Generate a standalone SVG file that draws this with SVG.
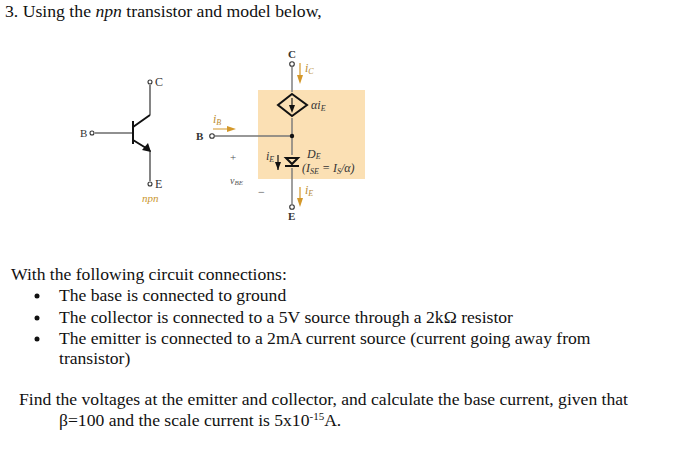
<svg xmlns="http://www.w3.org/2000/svg" width="695" height="466" viewBox="0 0 695 466">
<style>
text{font-family:"Liberation Serif","Times New Roman",serif;fill:#111}
.t{font-size:17.6px}
.w{fill:none;stroke:#222;stroke-width:1.1}
.g{fill:none;stroke:#777;stroke-width:1.4}
.k{fill:none;stroke:#111;stroke-width:2}
.o{fill:#fff;stroke:#333;stroke-width:1.1}
.y{fill:none;stroke:#d4982a;stroke-width:1.2}
.ya{fill:#d4982a}
.l{font-size:11px;font-weight:bold;fill:#333}
.m{font-style:italic;fill:#333}
.c{font-style:italic;fill:#b98a30;font-size:12px}
</style>
<rect width="695" height="466" fill="#fff"/>
<g id="heading"><text class="t" x="5" y="17" style="font-size:17.7px">3. Using the <tspan font-style="italic">npn</tspan> transistor and model below,</text></g>
<g id="npn-symbol">
<path class="w" d="M150 85V115M150 150V181M95 133H133"/>
<path class="k" d="M133 121V144M133 127L150 115M133 140L146 148"/>
<path d="M151 152L142 150L148 143Z" fill="#111"/>
<circle class="o" cx="150" cy="82" r="2"/><circle class="o" cx="150" cy="184" r="2"/><circle class="o" cx="92" cy="133" r="2"/>
<text x="155" y="86" font-size="12" style="fill:#333">C</text>
<text x="155" y="188" font-size="12" style="fill:#333">E</text>
<text x="80" y="137" font-size="11" style="fill:#333">B</text>
<text x="142" y="202" font-size="11" font-style="italic" style="fill:#c9962e">npn</text>
</g>
<g id="model-box"><rect x="258" y="90" width="107" height="89" fill="#fbe0b4"/></g>
<g id="connectors">
<path class="g" d="M292 67V92M292 118V155M292 168V204M215 136H292"/>
<circle cx="292" cy="136" r="2.2" fill="#111"/>
<path class="y" d="M300 63V79M213 129H232M300 187V203"/>
<path class="ya" d="M300 84L297 75H303ZM236 129L227 126V132ZM300 207L297 198H303Z"/>
<path d="M278 155V170" fill="none" stroke="#222" stroke-width="1.3"/><path d="M278 170L275 162H281Z" fill="#111"/>
</g>
<g id="source">
<path d="M292 94L307 105L292 116L278 105Z" fill="none" stroke="#111" stroke-width="2"/>
<path d="M292 98V110" stroke="#222" stroke-width="1.2"/><path d="M292 113L289 105H295Z" fill="#111"/>
<text class="m" x="311" y="109" font-size="12">αi<tspan font-size="8" dy="2">E</tspan></text>
</g>
<g id="diode">
<path d="M286 158H298L292 164Z" fill="none" stroke="#111" stroke-width="2"/><path d="M285 166H299" stroke="#111" stroke-width="2"/>
<text class="m" x="266" y="160" font-size="12">i<tspan font-size="8" dy="2">E</tspan></text>
<text class="m" x="307" y="158" font-size="12">D<tspan font-size="8" dy="1">E</tspan></text>
<text class="m" x="302" y="172" font-size="12">(I<tspan font-size="8" dy="2">SE</tspan><tspan dy="-2"> = I</tspan><tspan font-size="8" dy="2">S</tspan><tspan dy="-2">/α)</tspan></text>
</g>
<g id="labels">
<text class="l" x="288" y="58">C</text>
<text class="l" x="288" y="220">E</text>
<text class="l" x="196" y="140">B</text>
<circle class="o" cx="292" cy="64" r="2.3"/><circle class="o" cx="292" cy="207" r="2.3"/><circle class="o" cx="212" cy="136" r="2.3"/>
<text class="c" x="305" y="72">i<tspan font-size="8" dy="2">C</tspan></text>
<text class="c" x="213" y="123">i<tspan font-size="8" dy="2">B</tspan></text>
<text class="c" x="305" y="194">i<tspan font-size="8" dy="2">E</tspan></text>
<text x="230" y="161" font-size="11" style="fill:#555">+</text>
<text x="230" y="184" font-size="10" style="font-style:italic;fill:#555">v<tspan font-size="7" dy="1">BE</tspan></text>
<text x="258" y="196" font-size="12" style="fill:#555">−</text>
</g>
<g id="body">
<text class="t" x="11" y="280">With the following circuit connections:</text>
<circle cx="37" cy="296" r="2.5" fill="#111"/><circle cx="37" cy="318" r="2.5" fill="#111"/><circle cx="37" cy="339" r="2.5" fill="#111"/>
<text class="t" x="59" y="301">The base is connected to ground</text>
<text class="t" x="59" y="323">The collector is connected to a 5V source through a 2kΩ resistor</text>
<text class="t" x="59" y="344">The emitter is connected to a 2mA current source (current going away from</text>
<text class="t" x="59" y="364">transistor)</text>
<text class="t" x="19" y="405">Find the voltages at the emitter and collector, and calculate the base current, given that</text>
<text class="t" x="59" y="426">β=100 and the scale current is 5x10<tspan font-size="11" dy="-6">-15</tspan><tspan dy="6">A.</tspan></text>
</g>
</svg>
